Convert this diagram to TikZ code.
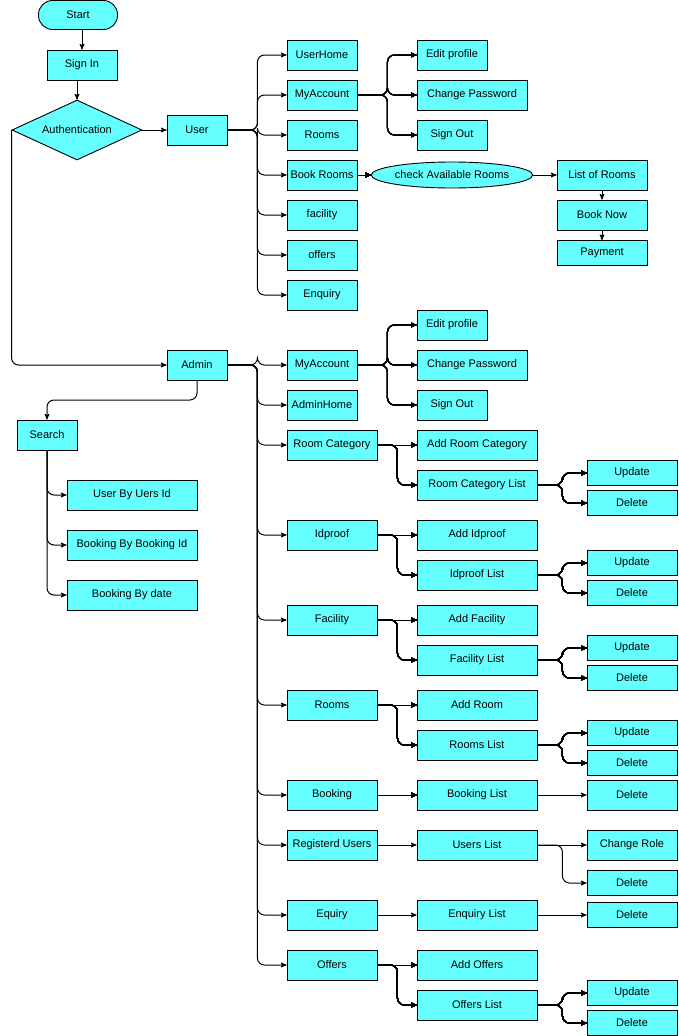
\documentclass[tikz,border=0pt]{standalone}
\usepackage{fontspec}
\setmainfont{Liberation Sans}
\usetikzlibrary{arrows}
\usetikzlibrary{shapes.geometric}
\definecolor{boxcyan}{HTML}{66FFFF}
\tikzset{
    x=1pt, y=-1pt,
    every node/.append style={
        font=\fontsize{11}{13}\selectfont
    },
    box/.style={
        draw, fill=boxcyan, minimum height=30pt, inner sep=1pt, line width=0.9pt
    },
    link/.style={
        draw, ->, >=stealth', line width=1pt, rounded corners=7pt
    }
}
\newcommand{\fork}[3]{\draw[link] (#1.east) -- ++(#3,0) |- (#2.west);}
\begin{document}
\begin{tikzpicture}
    \useasboundingbox (0,0) rectangle (678,1036);
    \node[box, rounded corners=14pt, minimum width=79pt, minimum height=29pt] (start) at (78,15) {Start};
    \node[box, minimum width=70pt] (signin) at (82,65) {Sign In};
    \node[draw, fill=boxcyan, line width=0.9pt, diamond, aspect=2.17, minimum width=130pt, minimum height=60pt, inner sep=0pt] (auth) at (77,130) {Authentication};
    \node[box, minimum width=60pt] (user) at (197,130) {User};
    \node[box, minimum width=60pt] (admin) at (197,365) {Admin};

    % user side
    \node[box, minimum width=70pt] (uhome) at (322,55) {UserHome};
    \node[box, minimum width=70pt] (uacc) at (322,95) {MyAccount};
    \node[box, minimum width=70pt] (urooms) at (322,135) {Rooms};
    \node[box, minimum width=70pt] (ubook) at (322,175) {Book Rooms};
    \node[box, minimum width=70pt] (ufac) at (322,215) {facility};
    \node[box, minimum width=70pt] (uoff) at (322,255) {offers};
    \node[box, minimum width=70pt] (uenq) at (322,295) {Enquiry};
    \node[box, minimum width=70pt] (uedit) at (452,55) {Edit profile};
    \node[box, minimum width=110pt] (upass) at (472,95) {Change Password};
    \node[box, minimum width=70pt] (uout) at (452,135) {Sign Out};
    \node[draw, fill=boxcyan, line width=0.9pt, ellipse, minimum width=150pt, minimum height=26pt, inner sep=0pt] (check) at (452,175) {check Available Rooms};
    \node[box, minimum width=90pt] (list) at (602,175) {List of Rooms};
    \node[box, minimum width=90pt] (now) at (602,215) {Book Now};
    \node[box, minimum width=90pt, minimum height=25pt] (pay) at (602,253) {Payment};

    % admin side
    \node[box, minimum width=70pt] (aacc) at (322,365) {MyAccount};
    \node[box, minimum width=70pt] (ahome) at (322,405) {AdminHome};
    \node[box, minimum width=90pt] (acat) at (332,445) {Room Category};
    \node[box, minimum width=90pt] (aid) at (332,535) {Idproof};
    \node[box, minimum width=90pt] (afac) at (332,620) {Facility};
    \node[box, minimum width=90pt] (arooms) at (332,705) {Rooms};
    \node[box, minimum width=90pt] (abook) at (332,795) {Booking};
    \node[box, minimum width=90pt] (areg) at (332,845) {Registerd Users};
    \node[box, minimum width=90pt] (aenq) at (332,915) {Equiry};
    \node[box, minimum width=90pt] (aoff) at (332,965) {Offers};
    \node[box, minimum width=70pt] (aedit) at (452,325) {Edit profile};
    \node[box, minimum width=110pt] (apass) at (472,365) {Change Password};
    \node[box, minimum width=70pt] (aout) at (452,405) {Sign Out};

    \node[box, minimum width=120pt] (addcat) at (477,445) {Add Room Category};
    \node[box, minimum width=120pt] (catlist) at (477,485) {Room Category List};
    \node[box, minimum width=120pt] (addid) at (477,535) {Add Idproof};
    \node[box, minimum width=120pt] (idlist) at (477,575) {Idproof List};
    \node[box, minimum width=120pt] (addfac) at (477,620) {Add Facility};
    \node[box, minimum width=120pt] (faclist) at (477,660) {Facility List};
    \node[box, minimum width=120pt] (addroom) at (477,705) {Add Room};
    \node[box, minimum width=120pt] (roomlist) at (477,745) {Rooms List};
    \node[box, minimum width=120pt] (booklist) at (477,795) {Booking List};
    \node[box, minimum width=120pt] (userlist) at (477,845) {Users List};
    \node[box, minimum width=120pt] (enqlist) at (477,915) {Enquiry List};
    \node[box, minimum width=120pt] (addoff) at (477,965) {Add Offers};
    \node[box, minimum width=120pt] (offlist) at (477,1005) {Offers List};

    \node[box, minimum width=90pt, minimum height=25pt] (catup) at (632,473) {Update};
    \node[box, minimum width=90pt, minimum height=25pt] (catdel) at (632,503) {Delete};
    \node[box, minimum width=90pt, minimum height=25pt] (idup) at (632,563) {Update};
    \node[box, minimum width=90pt, minimum height=25pt] (iddel) at (632,593) {Delete};
    \node[box, minimum width=90pt, minimum height=25pt] (facup) at (632,648) {Update};
    \node[box, minimum width=90pt, minimum height=25pt] (facdel) at (632,678) {Delete};
    \node[box, minimum width=90pt, minimum height=25pt] (roomup) at (632,733) {Update};
    \node[box, minimum width=90pt, minimum height=25pt] (roomdel) at (632,763) {Delete};
    \node[box, minimum width=90pt] (bookdel) at (632,795) {Delete};
    \node[box, minimum width=90pt] (role) at (632,845) {Change Role};
    \node[box, minimum width=90pt, minimum height=25pt] (userdel) at (632,883) {Delete};
    \node[box, minimum width=90pt, minimum height=25pt] (enqdel) at (632,915) {Delete};
    \node[box, minimum width=90pt, minimum height=25pt] (offup) at (632,993) {Update};
    \node[box, minimum width=90pt, minimum height=25pt] (offdel) at (632,1023) {Delete};

    % search
    \node[box, minimum width=60pt] (search) at (47,435) {Search};
    \node[box, minimum width=130pt] (suser) at (132,495) {User By Uers Id};
    \node[box, minimum width=130pt] (sbook) at (132,545) {Booking By Booking Id};
    \node[box, minimum width=130pt] (sdate) at (132,595) {Booking By date};
    \coordinate (turn) at (47,400);

    % connectors
    \draw[link] (start.south -| signin.north) -- (signin.north);
    \draw[link] (signin.south -| auth.north) -- (auth.north);
    \draw[link] (auth) -- (user);
    \draw[link] (auth.west) |- (admin.west);
    \draw[link] (admin.south) |- (turn) -- (search.north);
    \foreach \s in {suser,sbook,sdate}
        \draw[link] (search.south) |- (\s.west);
    \foreach \s in {uhome,uacc,urooms,ubook,ufac,uoff,uenq}
        \fork{user}{\s}{30}
    \foreach \s in {uedit,upass,uout}
        \fork{uacc}{\s}{30}
    \draw[link] (ubook) -- (check);
    \draw[link] (check) -- (list);
    \draw[link] (list) -- (now);
    \draw[link] (now) -- (pay);
    \foreach \s in {aacc,ahome,acat,aid,afac,arooms,abook,areg,aenq,aoff}
        \fork{admin}{\s}{30}
    \foreach \s in {aedit,apass,aout}
        \fork{aacc}{\s}{30}
    \foreach \a/\b/\c in {acat/addcat/catlist,aid/addid/idlist,afac/addfac/faclist,arooms/addroom/roomlist,aoff/addoff/offlist}{
        \draw[link] (\a) -- (\b);
        \fork{\a}{\c}{20}
    }
    \foreach \a/\b/\c in {catlist/catup/catdel,idlist/idup/iddel,faclist/facup/facdel,roomlist/roomup/roomdel,offlist/offup/offdel}{
        \fork{\a}{\b}{25}
        \fork{\a}{\c}{25}
    }
    \draw[link] (abook) -- (booklist);
    \draw[link] (booklist) -- (bookdel);
    \draw[link] (areg) -- (userlist);
    \draw[link] (userlist) -- (role);
    \fork{userlist}{userdel}{25}
    \draw[link] (aenq) -- (enqlist);
    \draw[link] (enqlist) -- (enqdel);
\end{tikzpicture}
\end{document}
